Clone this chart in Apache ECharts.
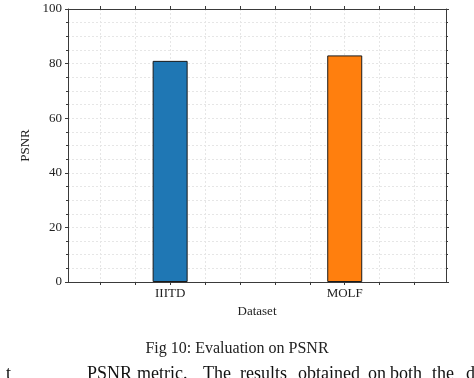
<!DOCTYPE html>
<html><head><meta charset="utf-8">
<script src="https://cdn.jsdelivr.net/npm/echarts@6/dist/echarts.min.js"></script>
<style>html,body{margin:0;padding:0;background:#fff}#c{width:474px;height:378px}</style>
</head><body><div id="c"></div>
<script>
var categories = ['IIITD', 'MOLF'];
var psnrValues = [81, 83];
var barColors = ['#1f77b4', '#ff7f0e'];
var yTicks = [0, 20, 40, 60, 80, 100];
var xMinorTicks = [-0.4, -0.2, 0, 0.2, 0.4, 0.6, 0.8, 1, 1.2, 1.4];
var captionText = 'Fig 10: Evaluation on PSNR';
var bodyWords = ['t', 'PSNR', 'metric.', 'The', 'results', 'obtained', 'on', 'both', 'the', 'd'];
var bodyWordX = [6, 87, 137, 203, 240, 298, 368, 390, 432, 466];

var serif = 'Liberation Serif';
var gridColor = '#e6e6e6';
var axisColor = '#3a3a3a';

var chart = echarts.init(document.getElementById('c'), null, {renderer: 'canvas'});
var xBase = {
  type: 'value', min: -0.585, max: 1.58,
  axisLine: {show: true, onZero: false, lineStyle: {color: axisColor, width: 1}},
  axisTick: {show: true, inside: false, length: 3, customValues: xMinorTicks, lineStyle: {color: axisColor}},
};
var yBase = {
  type: 'value', min: 0, max: 100, interval: 20,
  axisLine: {show: true, onZero: false, lineStyle: {color: axisColor}},
  axisTick: {show: true, inside: false, length: 3, lineStyle: {color: axisColor}},
  minorTick: {show: true, splitNumber: 4, length: 2, lineStyle: {color: axisColor}}
};
var graphics = [
  {type: 'text', left: 'center', top: 341, style: {text: captionText, font: '16px "Liberation Serif"', fill: '#222'}}
];
bodyWords.forEach(function (w, i) {
  graphics.push({type: 'text', left: bodyWordX[i], top: 365, style: {text: w, font: '18px "Liberation Serif"', fill: '#111'}});
});
var option = {
  animation: false,
  grid: {left: 68, right: 28, top: 9, bottom: 96, containLabel: false},
  xAxis: [
    Object.assign({}, xBase, {
      position: 'bottom',
      name: 'Dataset', nameLocation: 'middle', nameGap: 23,
      nameTextStyle: {fontFamily: serif, fontSize: 13, color: '#222'},
      axisLabel: {show: true, customValues: [0, 1], margin: 5, fontFamily: serif, fontSize: 13, color: '#222',
        formatter: function (v) { return categories[Math.round(v)]; }},
      splitLine: {show: true, lineStyle: {color: gridColor, type: [2, 2], width: 1}}
    }),
    Object.assign({}, xBase, {
      position: 'top',
      axisLabel: {show: false},
      splitLine: {show: false}
    })
  ],
  yAxis: [
    Object.assign({}, yBase, {
      position: 'left',
      name: 'PSNR', nameLocation: 'middle', nameGap: 31, nameRotate: 90,
      nameTextStyle: {fontFamily: serif, fontSize: 13, color: '#222'},
      axisLabel: {fontFamily: serif, fontSize: 13, color: '#222', margin: 6},
      splitLine: {show: true, lineStyle: {color: gridColor, type: [2, 2]}},
      minorSplitLine: {show: true, lineStyle: {color: gridColor, type: [2, 2]}}
    }),
    Object.assign({}, yBase, {
      position: 'right',
      axisLabel: {show: false},
      splitLine: {show: false}
    })
  ],
  series: [{
    type: 'bar', xAxisIndex: 0, yAxisIndex: 0, barWidth: 35,
    data: psnrValues.map(function (v, i) {
      return {value: [i, v], itemStyle: {color: barColors[i], borderColor: '#1a1a1a', borderWidth: 1}};
    })
  }],
  graphic: graphics
};
chart.setOption(option);
</script></body></html>
